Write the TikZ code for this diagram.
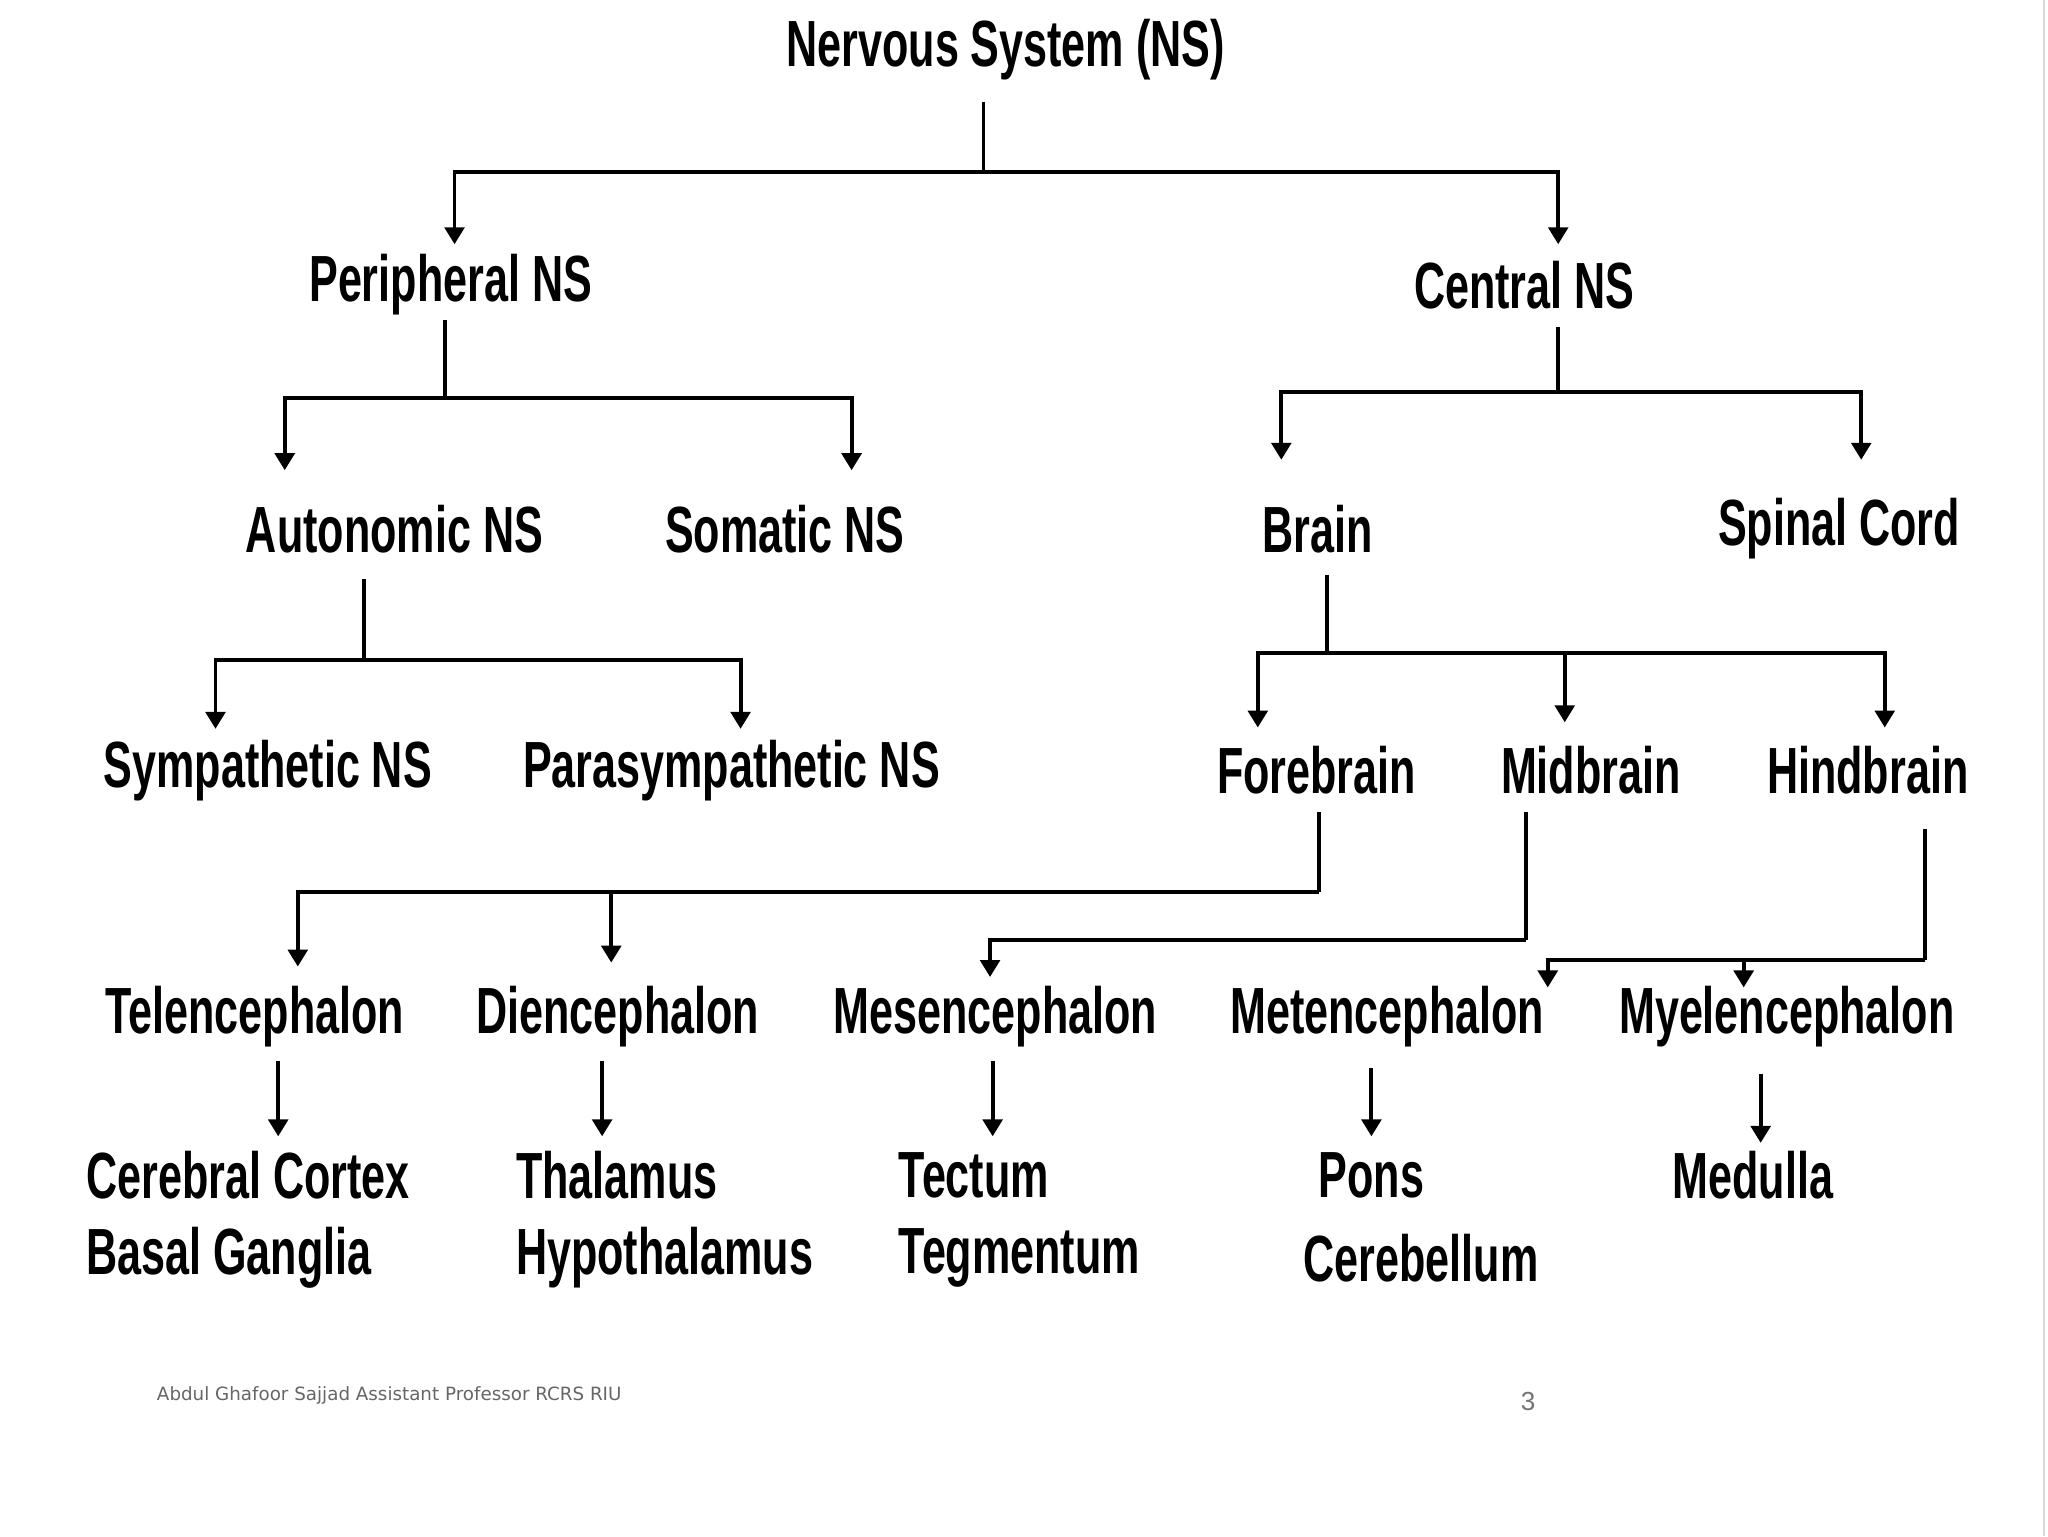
\documentclass[tikz,border=0pt]{standalone}
\usepackage{fontspec}
\setmainfont{Liberation Sans}
\newfontfamily\footfont{DejaVu Sans}
\usetikzlibrary{arrows.meta}
\newcommand{\sq}[1]{\scalebox{0.66}[1]{#1}}
\begin{document}
\begin{tikzpicture}[x=1pt,y=-1pt,
  lbl/.style={inner sep=0pt,font=\fontsize{50}{52}\selectfont\bfseries},
  ln/.style={line width=3pt},
  arr/.style={line width=3pt,-{Triangle[width=15pt,length=13pt]}}]
\useasboundingbox (0,0) rectangle (1568,1176);
\fill[white] (0,0) rectangle (1568,1176);
\draw[black!15,line width=1pt] (1565,0) -- (1565,1176);
% nodes
\node[lbl] (ns) at (770,38) {\sq{Nervous System (NS)}};
\node[lbl] (pns) at (345,218) {\sq{Peripheral NS}};
\node[lbl] (cns) at (1167,218) {\sq{Central NS}};
\node[lbl] (ans) at (302,405) {\sq{Autonomic NS}};
\node[lbl] (sns) at (601,405) {\sq{Somatic NS}};
\node[lbl] (brain) at (1009,405) {\sq{Brain}};
\node[lbl] (sc) at (1408,405) {\sq{Spinal Cord}};
\node[lbl] (symp) at (205,590) {\sq{Sympathetic NS}};
\node[lbl] (para) at (560,590) {\sq{Parasympathetic NS}};
\node[lbl] (fore) at (1008,590) {\sq{Forebrain}};
\node[lbl] (mid) at (1218,590) {\sq{Midbrain}};
\node[lbl] (hind) at (1430,590) {\sq{Hindbrain}};
\node[lbl] (tel) at (195,778) {\sq{Telencephalon}};
\node[lbl] (die) at (473,778) {\sq{Diencephalon}};
\node[lbl] (mes) at (762,778) {\sq{Mesencephalon}};
\node[lbl] (met) at (1062,778) {\sq{Metencephalon}};
\node[lbl] (mye) at (1368,778) {\sq{Myelencephalon}};
\node[lbl,anchor=west] (cc) at (66,900) {\sq{Cerebral Cortex}};
\node[lbl,anchor=west] (bg) at (66,963) {\sq{Basal Ganglia}};
\node[lbl,anchor=west] (th) at (395,900) {\sq{Thalamus}};
\node[lbl,anchor=west] (hy) at (395,963) {\sq{Hypothalamus}};
\node[lbl,anchor=west] (tec) at (688,900) {\sq{Tectum}};
\node[lbl,anchor=west] (teg) at (688,963) {\sq{Tegmentum}};
\node[lbl] (pons) at (1050,900) {\sq{Pons}};
\node[lbl,anchor=west] (cer) at (998,963) {\sq{Cerebellum}};
\node[lbl] (med) at (1342,900) {\sq{Medulla}};
\node[inner sep=0pt,anchor=west,text=black!60,font=\footfont\fontsize{14}{16}\selectfont] (foot) at (120,1068) {Abdul Ghafoor Sajjad Assistant Professor RCRS RIU};
\node[inner sep=0pt,text=black!55,font=\fontsize{20}{22}\selectfont\rmfamily] (pg) at (1170,1073) {3};
% level 1
\coordinate (a1) at (753,78); \coordinate (a2) at (753,132);
\draw[ln] (a1) -- (a2);
\draw[arr] (a2) -| (348,187);
\draw[arr] (a2) -| (1193,187);
% peripheral
\coordinate (b1) at (341,245); \coordinate (b2) at (341,305);
\draw[ln] (b1) -- (b2);
\draw[arr] (b2) -| (218,360);
\draw[arr] (b2) -| (652,360);
% central
\coordinate (c1) at (1193,250); \coordinate (c2) at (1193,300);
\draw[ln] (c1) -- (c2);
\draw[arr] (c2) -| (981,352);
\draw[arr] (c2) -| (1425,352);
% autonomic
\coordinate (d1) at (279,443); \coordinate (d2) at (279,505);
\draw[ln] (d1) -- (d2);
\draw[arr] (d2) -| (165,558);
\draw[arr] (d2) -| (567,558);
% brain
\coordinate (e1) at (1016,440); \coordinate (e2) at (1016,500);
\draw[ln] (e1) -- (e2);
\draw[arr] (e2) -| (963,557);
\draw[arr] (e2) -| (1443,557);
\draw[arr] (1198,500) -- (1198,553);
% forebrain
\coordinate (f1) at (1010,622); \coordinate (f2) at (1010,683);
\draw[ln] (f1) -- (f2);
\draw[arr] (f2) -| (228,740);
\draw[arr] (468,683) -- (468,737);
% midbrain
\coordinate (g1) at (1168,622); \coordinate (g2) at (1168,720);
\draw[ln] (g1) -- (g2);
\draw[arr] (g2) -| (758,748);
% hindbrain
\coordinate (h1) at (1474,635); \coordinate (h2) at (1474,735);
\draw[ln] (h1) -- (h2);
\draw[arr] (h2) -| (1185,756);
\draw[arr] (1335,735) -- (1335,756);
% down arrows
\draw[arr] (213,812) -- (213,870);
\draw[arr] (461,812) -- (461,870);
\draw[arr] (760,812) -- (760,870);
\draw[arr] (1050,818) -- (1050,870);
\draw[arr] (1348,822) -- (1348,875);
\end{tikzpicture}
\end{document}
